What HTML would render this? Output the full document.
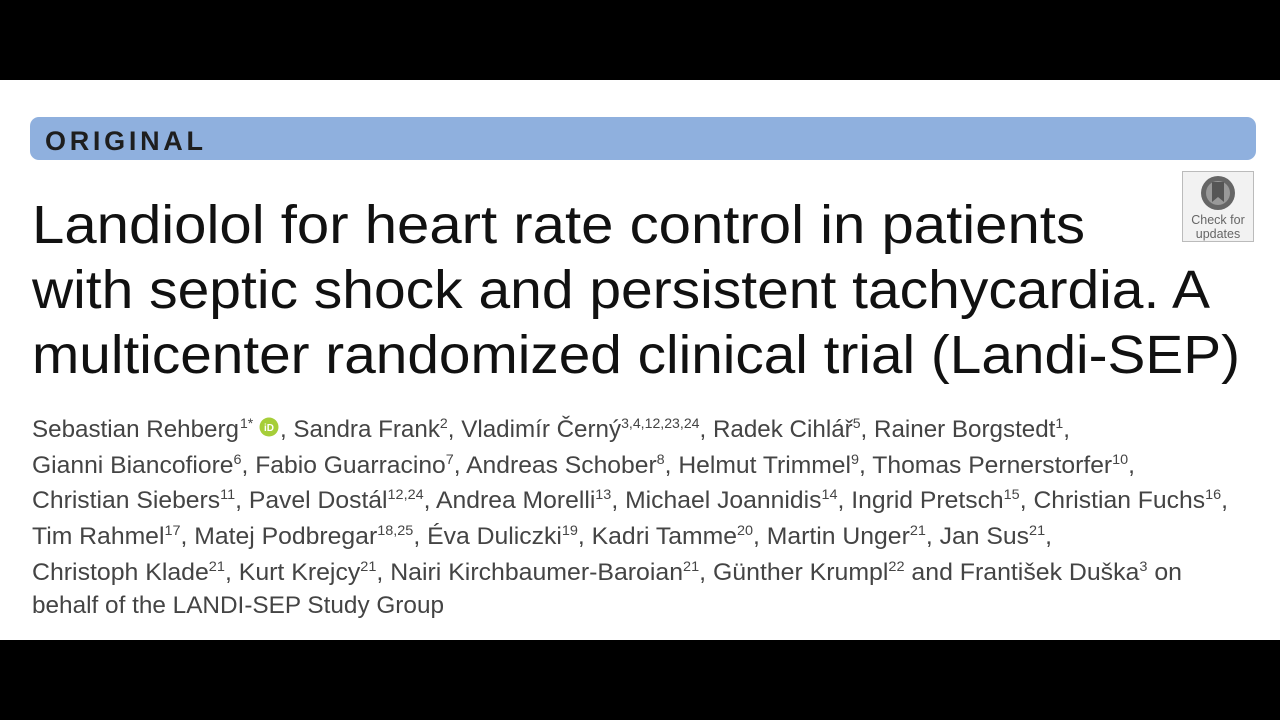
<!DOCTYPE html>
<html><head><meta charset="utf-8"><style>
html,body{margin:0;padding:0;background:#000;}
svg{display:block}
</style></head><body>
<svg width="1280" height="720" viewBox="0 0 1280 720" font-family="Liberation Sans, sans-serif">
<rect x="0" y="0" width="1280" height="80" fill="#000"/>
<rect x="0" y="80" width="1280" height="560" fill="#fff"/>
<rect x="0" y="640" width="1280" height="80" fill="#000"/>
<rect x="30" y="117" width="1226" height="43" rx="9" fill="#8fb0de"/>
<text x="45" y="150" font-size="27" font-weight="bold" fill="#1e1e1e" letter-spacing="2" textLength="160">ORIGINAL</text>
<g>
<rect x="1182.5" y="171.5" width="71" height="70" fill="#f2f2f2" stroke="#bbb"/>
<circle cx="1218" cy="193" r="17" fill="#666"/>
<circle cx="1218" cy="193" r="12" fill="#999"/>
<path d="M1212 182 h12 v20 l-6 -5 l-6 5 z" fill="#555"/>
<text x="1218" y="224" font-size="12.5" fill="#666" text-anchor="middle">Check for</text>
<text x="1218" y="238" font-size="12.5" fill="#666" text-anchor="middle">updates</text>
</g>
<g font-size="54" fill="#111">
<text x="32" y="243" textLength="1053" lengthAdjust="spacingAndGlyphs">Landiolol for heart rate control in patients</text>
<text x="32" y="308" textLength="1178" lengthAdjust="spacingAndGlyphs">with septic shock and persistent tachycardia. A</text>
<text x="32" y="373" textLength="1208" lengthAdjust="spacingAndGlyphs">multicenter randomized clinical trial (Landi-SEP)</text>
</g>
<g font-size="24" fill="#444">
<text x="32" y="437" textLength="207" lengthAdjust="spacingAndGlyphs">Sebastian Rehberg</text>
<text x="240" y="428" font-size="14">1*</text>
<circle cx="269" cy="427" r="9.5" fill="#a6ce39"/>
<text x="269" y="431" font-size="10" fill="#fff" text-anchor="middle" font-weight="bold">iD</text>
<text x="280" y="437" textLength="790" lengthAdjust="spacingAndGlyphs">, Sandra Frank<tspan font-size="14" dy="-9">2</tspan><tspan dy="9">, Vladimír Černý</tspan><tspan font-size="14" dy="-9">3,4,12,23,24</tspan><tspan dy="9">, Radek Cihlář</tspan><tspan font-size="14" dy="-9">5</tspan><tspan dy="9">, Rainer Borgstedt</tspan><tspan font-size="14" dy="-9">1</tspan><tspan dy="9">,</tspan></text>
<text x="32" y="473" textLength="1103" lengthAdjust="spacingAndGlyphs">Gianni Biancofiore<tspan font-size="14" dy="-9">6</tspan><tspan dy="9">, Fabio Guarracino</tspan><tspan font-size="14" dy="-9">7</tspan><tspan dy="9">, Andreas Schober</tspan><tspan font-size="14" dy="-9">8</tspan><tspan dy="9">, Helmut Trimmel</tspan><tspan font-size="14" dy="-9">9</tspan><tspan dy="9">, Thomas Pernerstorfer</tspan><tspan font-size="14" dy="-9">10</tspan><tspan dy="9">,</tspan></text>
<text x="32" y="508" textLength="1196" lengthAdjust="spacingAndGlyphs">Christian Siebers<tspan font-size="14" dy="-9">11</tspan><tspan dy="9">, Pavel Dostál</tspan><tspan font-size="14" dy="-9">12,24</tspan><tspan dy="9">, Andrea Morelli</tspan><tspan font-size="14" dy="-9">13</tspan><tspan dy="9">, Michael Joannidis</tspan><tspan font-size="14" dy="-9">14</tspan><tspan dy="9">, Ingrid Pretsch</tspan><tspan font-size="14" dy="-9">15</tspan><tspan dy="9">, Christian Fuchs</tspan><tspan font-size="14" dy="-9">16</tspan><tspan dy="9">,</tspan></text>
<text x="32" y="544" textLength="1020" lengthAdjust="spacingAndGlyphs">Tim Rahmel<tspan font-size="14" dy="-9">17</tspan><tspan dy="9">, Matej Podbregar</tspan><tspan font-size="14" dy="-9">18,25</tspan><tspan dy="9">, Éva Duliczki</tspan><tspan font-size="14" dy="-9">19</tspan><tspan dy="9">, Kadri Tamme</tspan><tspan font-size="14" dy="-9">20</tspan><tspan dy="9">, Martin Unger</tspan><tspan font-size="14" dy="-9">21</tspan><tspan dy="9">, Jan Sus</tspan><tspan font-size="14" dy="-9">21</tspan><tspan dy="9">,</tspan></text>
<text x="32" y="580" textLength="1150" lengthAdjust="spacingAndGlyphs">Christoph Klade<tspan font-size="14" dy="-9">21</tspan><tspan dy="9">, Kurt Krejcy</tspan><tspan font-size="14" dy="-9">21</tspan><tspan dy="9">, Nairi Kirchbaumer-Baroian</tspan><tspan font-size="14" dy="-9">21</tspan><tspan dy="9">, Günther Krumpl</tspan><tspan font-size="14" dy="-9">22</tspan><tspan dy="9"> and František Duška</tspan><tspan font-size="14" dy="-9">3</tspan><tspan dy="9"> on</tspan></text>
<text x="32" y="613" textLength="412" lengthAdjust="spacingAndGlyphs">behalf of the LANDI-SEP Study Group</text>
</g>
</svg>
</body></html>
